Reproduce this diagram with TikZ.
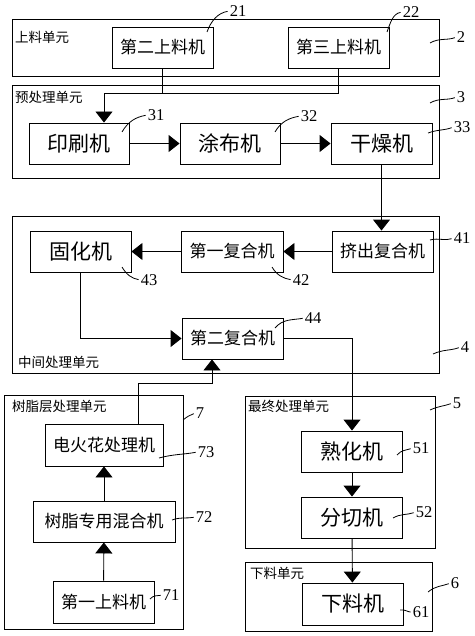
\documentclass[tikz,border=0pt]{standalone}
\usepackage{fontspec}
\setmainfont{Liberation Serif}
\newfontfamily\cjk{Noto Sans CJK SC}
\usetikzlibrary{arrows.meta,calc}
\tikzset{
  unitbox/.style={draw, line width=0.9pt, inner sep=0pt},
  mach/.style={draw, line width=0.9pt, fill=white, inner sep=0pt, minimum width=101pt, minimum height=41pt},
  big/.style={mach, font=\cjk\fontsize{21}{21}\selectfont},
  mid/.style={mach, font=\cjk\fontsize{17}{17}\selectfont},
  ulabel/.style={anchor=west, inner sep=0pt, font=\cjk\fontsize{13.5}{13.5}\selectfont},
  num/.style={inner sep=0pt, font=\fontsize{16.5}{16.5}\selectfont},
  conn/.style={line width=0.9pt},
  arr/.style={conn, -{Triangle[length=11pt,width=17pt]}},
  lead/.style={line width=0.8pt, shorten >=2pt},
}
\begin{document}
\begin{tikzpicture}[x=1pt,y=-1pt]
\useasboundingbox (0,0) rectangle (474,636);
% unit boxes
\node[unitbox, minimum width=427pt, minimum height=57pt] (u2) at (225.5,47.5) {};
\node[unitbox, minimum width=427pt, minimum height=93pt] (u3) at (225.5,131.5) {};
\node[unitbox, minimum width=427pt, minimum height=157pt] (u4) at (225.5,294.5) {};
\node[unitbox, minimum width=179pt, minimum height=234pt] (u7) at (93.5,512) {};
\node[unitbox, minimum width=190pt, minimum height=152pt] (u5) at (340,472) {};
\node[unitbox, minimum width=187pt, minimum height=69pt] (u6) at (338.5,596.5) {};
% unit labels
\node[ulabel] (l2) at (15,37) {上料单元};
\node[ulabel] (l3) at (15,97) {预处理单元};
\node[ulabel] (l4) at (18,362) {中间处理单元};
\node[ulabel] (l7) at (12,406) {树脂层处理单元};
\node[ulabel] (l5) at (248,406) {最终处理单元};
\node[ulabel] (l6) at (250,573) {下料单元};
% machines
\node[mid] (m21) at (162.5,47.5) {第二上料机};
\node[mid] (m22) at (338.5,47.5) {第三上料机};
\node[big, minimum width=100pt] (m31) at (79,143.5) {印刷机};
\node[big, minimum width=100pt] (m32) at (230,143.5) {涂布机};
\node[big] (m33) at (381.5,143.5) {干燥机};
\node[mid] (m41) at (382.5,251.5) {挤出复合机};
\node[mid, minimum width=102pt] (m42) at (232,251.5) {第一复合机};
\node[big] (m43) at (80.5,251.5) {固化机};
\node[mid] (m44) at (232.5,338.5) {第二复合机};
\node[mid, minimum width=118pt, minimum height=42pt] (m73) at (104,445) {电火花处理机};
\node[mid, minimum width=142pt] (m72) at (104,521.5) {树脂专用混合机};
\node[mid, minimum height=42pt] (m71) at (103.5,602) {第一上料机};
\node[big] (m51) at (352,451.5) {熟化机};
\node[big] (m52) at (352,517.5) {分切机};
\node[big, minimum height=42pt] (m61) at (352.5,604) {下料机};
% connectors
\coordinate (j1) at (104,93);
\draw[conn] (m21.south) -- (m21.south |- j1);
\draw[arr] (m22.south) |- (j1) -- (j1 |- m31.north);
\draw[arr] (m31) -- (m32);
\draw[arr] (m32) -- (m33);
\draw[arr] (m33.south) -- (m33.south |- m41.north);
\draw[arr] (m41) -- (m42);
\draw[arr] (m42) -- (m43);
\draw[arr] (m43.south) |- (m44.west);
\draw[arr] (m44.east) -| (m51.north);
\coordinate (j2) at (212,383);
\draw[arr] ($(m73.north)+(34,0)$) |- (j2) -- (j2 |- m44.south);
\draw[arr] (m72) -- (m73);
\draw[arr] (m71) -- (m72);
\draw[arr] (m51) -- (m52);
\draw[arr] (m52) -- (m61);
% numbers
\node[num] (n21) at (238,11) {21};
\node[num] (n22) at (411,12) {22};
\node[num] (n2) at (461,37) {2};
\node[num] (n3) at (461,97) {3};
\node[num] (n31) at (156,115) {31};
\node[num] (n32) at (309,116) {32};
\node[num] (n33) at (462,127) {33};
\node[num] (n41) at (462,238) {41};
\node[num] (n42) at (301,280) {42};
\node[num] (n43) at (149,280) {43};
\node[num] (n44) at (313,318) {44};
\node[num] (n4) at (465,347) {4};
\node[num] (n7) at (200,413) {7};
\node[num] (n73) at (206,452) {73};
\node[num] (n72) at (204,517) {72};
\node[num] (n71) at (171,595) {71};
\node[num] (n5) at (457,403) {5};
\node[num] (n51) at (421,448) {51};
\node[num] (n52) at (424,512) {52};
\node[num] (n6) at (455,583) {6};
\node[num] (n61) at (421,612) {61};
% leaders
\draw[lead] (207,32) to[out=70,in=190] (n21.west);
\draw[lead] (387,32) to[out=70,in=190] (n22.west);
\draw[lead] (430,43) to[out=30,in=200] (n2.west);
\draw[lead] (430,103) to[out=30,in=200] (n3.west);
\draw[lead] (122,132) to[out=60,in=190] (n31.west);
\draw[lead] (275,132) to[out=60,in=190] (n32.west);
\draw[lead] (428,133) to[out=20,in=200] (n33.west);
\draw[lead] (430,240) to[out=15,in=200] (n41.west);
\draw[lead] (272,267) to[out=-60,in=170] (n42.west);
\draw[lead] (122,267) to[out=-60,in=170] (n43.west);
\draw[lead] (275,328) to[out=50,in=190] (n44.west);
\draw[lead] (433,354) to[out=25,in=200] (n4.west);
\draw[lead] (183,420) to[out=40,in=200] (n7.west);
\draw[lead] (159,458) to[out=15,in=190] (n73.west);
\draw[lead] (172,520) to[out=20,in=190] (n72.west);
\draw[lead] (150,599) to[out=50,in=190] (n71.west);
\draw[lead] (430,410) to[out=25,in=200] (n5.west);
\draw[lead] (397,455) to[out=50,in=200] (n51.west);
\draw[lead] (393,518) to[out=30,in=200] (n52.west);
\draw[lead] (428,592) to[out=40,in=200] (n6.west);
\draw[lead] (400,610) to[out=10,in=180] (n61.west);
\end{tikzpicture}
\end{document}
